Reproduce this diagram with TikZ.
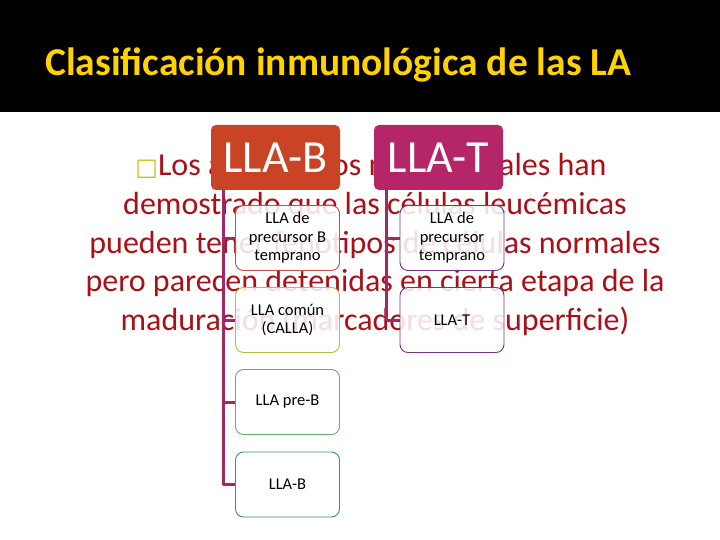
\documentclass[tikz,border=0pt]{standalone}
\usepackage{fontspec}
\setmainfont{Carlito}
\newfontfamily\symfont{DejaVu Sans}
\definecolor{titleyellow}{RGB}{255,210,0}
\definecolor{bodyred}{RGB}{170,16,24}
\definecolor{bulletolive}{RGB}{200,190,40}
\definecolor{hdrB}{RGB}{200,68,36}
\definecolor{hdrT}{RGB}{180,38,104}
\definecolor{linkc}{RGB}{160,40,100}
\definecolor{bdB1}{RGB}{190,80,70}
\definecolor{bdB2}{RGB}{180,190,70}
\definecolor{bdB3}{RGB}{90,180,110}
\definecolor{bdB4}{RGB}{60,140,140}
\definecolor{bdT}{RGB}{120,50,130}
\tikzset{
  bodyline/.style={anchor=base, text=bodyred, font=\fontsize{32}{36}\selectfont, inner sep=0pt},
  hdrbox/.style={rounded corners=5pt, text=white, font=\fontsize{46}{50}\selectfont, minimum width=129pt, minimum height=65pt, inner sep=0pt},
  subbox/.style={draw, line width=0.9pt, fill=white, fill opacity=0.86, text opacity=1, rounded corners=8pt, minimum width=104pt, minimum height=65pt, inner sep=1pt, align=center, font=\fontsize{16.5}{18.5}\selectfont, text=black},
  link/.style={draw=linkc, line width=3pt}
}
\begin{document}
\begin{tikzpicture}[x=1pt,y=-1pt]
\useasboundingbox (0,0) rectangle (720,540);
\fill[black] (0,0) rectangle (720,112);
\node[anchor=base west, text=titleyellow, font=\fontsize{39.5}{42}\selectfont\bfseries, inner sep=0pt] (title) at (45,76) {Clasificación inmunológica de las LA};
% body text
\node[bodyline] (l1) at (371,176) {{\symfont\color{bulletolive}\fontsize{24}{26}\selectfont □}Los anticuerpos monoclonales han};
\node[bodyline] (l2) at (375,214.5) {demostrado que las células leucémicas};
\node[bodyline] (l3) at (375,253) {pueden tener fenotipos de células normales};
\node[bodyline] (l4) at (375,291.5) {pero parecen detenidas en cierta etapa de la};
\node[bodyline] (l5) at (375,330) {maduración (marcadores de superficie)};
% headers
\node[hdrbox, fill=hdrB] (hb) at (275.5,157.5) {LLA-B};
\node[hdrbox, fill=hdrT] (ht) at (438.5,157.5) {LLA-T};
% connector coordinates
\coordinate (bv) at (223,190);
\coordinate (bend) at (223,484.5);
\coordinate (tv) at (386,190);
\coordinate (tend) at (386,320);
% connectors
\draw[link] (bv) -- (bend);
\draw[link] (tv) -- (tend);
\node[subbox, draw=bdB1] (b1) at (287.5,238) {LLA de\\precursor B\\temprano};
\node[subbox, draw=bdB2] (b2) at (287.5,320) {LLA común\\(CALLA)};
\node[subbox, draw=bdB3] (b3) at (287.5,402) {LLA pre-B};
\node[subbox, draw=bdB4] (b4) at (287.5,484.5) {LLA-B};
\node[subbox, draw=bdT] (t1) at (452,238) {LLA de\\precursor\\temprano};
\node[subbox, draw=bdT] (t2) at (452,320) {LLA-T};
\draw[link] (223,238) -- (b1.west);
\draw[link] (223,320) -- (b2.west);
\draw[link] (223,402) -- (b3.west);
\draw[link] (223,484.5) -- (b4.west);
\draw[link] (386,238) -- (t1.west);
\draw[link] (386,320) -- (t2.west);
\end{tikzpicture}
\end{document}
